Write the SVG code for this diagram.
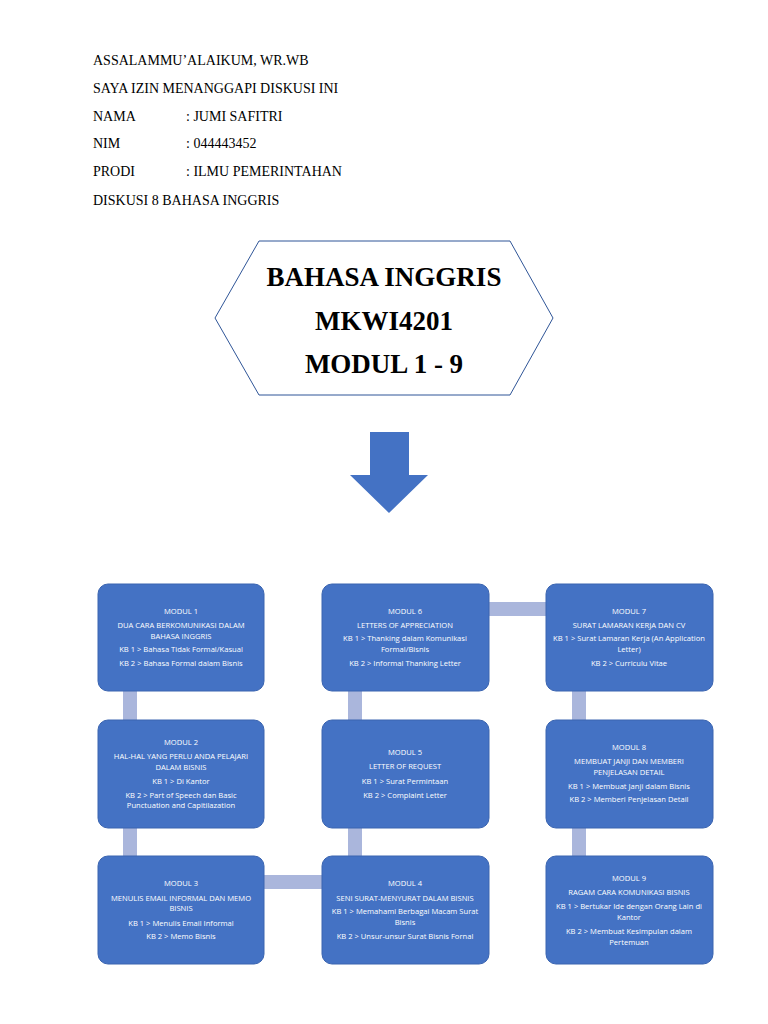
<svg xmlns="http://www.w3.org/2000/svg" width="768" height="1024" viewBox="0 0 768 1024">
<style>
.h{font-family:"Liberation Serif",serif;font-size:14px;fill:#000}
.t{font-family:"Liberation Serif",serif;font-size:27px;font-weight:bold;fill:#000;text-anchor:middle}
.b{fill:#4472c4;stroke:#3a64b0;stroke-width:1}
.n{font-family:"Open Sans","Liberation Sans",sans-serif;font-size:7.6px;fill:#fff;text-anchor:middle}
.c{fill:#aab6dc}
</style>
<rect width="768" height="1024" fill="#fff"/>
<g id="header">
<text class="h" x="93" y="65">ASSALAMMU’ALAIKUM, WR.WB</text>
<text class="h" x="93" y="93">SAYA IZIN MENANGGAPI DISKUSI INI</text>
<text class="h" x="93" y="121">NAMA</text><text class="h" x="186" y="121">: JUMI SAFITRI</text>
<text class="h" x="93" y="148">NIM</text><text class="h" x="186" y="148">: 044443452</text>
<text class="h" x="93" y="176">PRODI</text><text class="h" x="186" y="176">: ILMU PEMERINTAHAN</text>
<text class="h" x="93" y="205">DISKUSI 8 BAHASA INGGRIS</text>
</g>
<g id="title">
<polygon points="215,318 259,241 510,241 553,318 510,395 259,395" fill="#fff" stroke="#2f5597" stroke-width="1"/>
<text class="t" x="384" y="286">BAHASA INGGRIS</text>
<text class="t" x="384" y="330">MKWI4201</text>
<text class="t" x="384" y="373">MODUL 1 - 9</text>
</g>
<g id="arrow">
<polygon points="370,432 409,432 409,475 428,475 389,513 350,475 370,475" fill="#4472c4"/>
</g>
<g id="connectors">
<rect class="c" x="123" y="691" width="14" height="29"/>
<rect class="c" x="123" y="828" width="14" height="28"/>
<rect class="c" x="348" y="691" width="14" height="29"/>
<rect class="c" x="348" y="828" width="14" height="28"/>
<rect class="c" x="572" y="691" width="14" height="29"/>
<rect class="c" x="572" y="828" width="14" height="28"/>
<rect class="c" x="264" y="875" width="58" height="14"/>
<rect class="c" x="489" y="602" width="57" height="14"/>
</g>
<g id="m1"><rect class="b" x="98" y="584" width="166" height="107" rx="10"/>
<text class="n" x="181" y="614">MODUL 1</text><text class="n" x="181" y="628">DUA CARA BERKOMUNIKASI DALAM</text><text class="n" x="181" y="639">BAHASA INGGRIS</text><text class="n" x="181" y="652">KB 1 &gt; Bahasa Tidak Formal/Kasual</text><text class="n" x="181" y="666">KB 2 &gt; Bahasa Formal dalam Bisnis</text></g>
<g id="m6"><rect class="b" x="322" y="584" width="167" height="107" rx="10"/>
<text class="n" x="405" y="614">MODUL 6</text><text class="n" x="405" y="628">LETTERS OF APPRECIATION</text><text class="n" x="405" y="641">KB 1 &gt; Thanking dalam Komunikasi</text><text class="n" x="405" y="652">Formal/Bisnis</text><text class="n" x="405" y="666">KB 2 &gt; Informal Thanking Letter</text></g>
<g id="m7"><rect class="b" x="546" y="584" width="167" height="107" rx="10"/>
<text class="n" x="629" y="614">MODUL 7</text><text class="n" x="629" y="628">SURAT LAMARAN KERJA DAN CV</text><text class="n" x="629" y="641">KB 1 &gt; Surat Lamaran Kerja (An Application</text><text class="n" x="629" y="652">Letter)</text><text class="n" x="629" y="666">KB 2 &gt; Curriculu Vitae</text></g>
<g id="m2"><rect class="b" x="98" y="720" width="166" height="108" rx="10"/>
<text class="n" x="181" y="745">MODUL 2</text><text class="n" x="181" y="759">HAL-HAL YANG PERLU ANDA PELAJARI</text><text class="n" x="181" y="770">DALAM BISNIS</text><text class="n" x="181" y="784">KB 1 &gt; Di Kantor</text><text class="n" x="181" y="798">KB 2 &gt; Part of Speech dan Basic</text><text class="n" x="181" y="808">Punctuation and Capitilazation</text></g>
<g id="m5"><rect class="b" x="322" y="720" width="167" height="108" rx="10"/>
<text class="n" x="405" y="755">MODUL 5</text><text class="n" x="405" y="769">LETTER OF REQUEST</text><text class="n" x="405" y="784">KB 1 &gt; Surat Permintaan</text><text class="n" x="405" y="798">KB 2 &gt; Complaint Letter</text></g>
<g id="m8"><rect class="b" x="546" y="720" width="167" height="108" rx="10"/>
<text class="n" x="629" y="750">MODUL 8</text><text class="n" x="629" y="764">MEMBUAT JANJI DAN MEMBERI</text><text class="n" x="629" y="775">PENJELASAN DETAIL</text><text class="n" x="629" y="789">KB 1 &gt; Membuat Janji dalam Bisnis</text><text class="n" x="629" y="802">KB 2 &gt; Memberi Penjelasan Detail</text></g>
<g id="m3"><rect class="b" x="98" y="856" width="166" height="108" rx="10"/>
<text class="n" x="181" y="886">MODUL 3</text><text class="n" x="181" y="901">MENULIS EMAIL INFORMAL DAN MEMO</text><text class="n" x="181" y="911">BISNIS</text><text class="n" x="181" y="926">KB 1 &gt;  Menulis Email Informal</text><text class="n" x="181" y="939">KB 2 &gt; Memo Bisnis</text></g>
<g id="m4"><rect class="b" x="322" y="856" width="167" height="108" rx="10"/>
<text class="n" x="405" y="886">MODUL 4</text><text class="n" x="405" y="901">SENI SURAT-MENYURAT DALAM BISNIS</text><text class="n" x="405" y="914">KB 1 &gt; Memahami Berbagai Macam Surat</text><text class="n" x="405" y="925">Bisnis</text><text class="n" x="405" y="939">KB 2 &gt; Unsur-unsur Surat Bisnis Fornal</text></g>
<g id="m9"><rect class="b" x="546" y="856" width="167" height="108" rx="10"/>
<text class="n" x="629" y="881">MODUL 9</text><text class="n" x="629" y="895">RAGAM CARA KOMUNIKASI BISNIS</text><text class="n" x="629" y="909">KB 1 &gt; Bertukar Ide dengan Orang Lain di</text><text class="n" x="629" y="920">Kantor</text><text class="n" x="629" y="934">KB 2 &gt; Membuat Kesimpulan dalam</text><text class="n" x="629" y="945">Pertemuan</text></g>
</svg>
